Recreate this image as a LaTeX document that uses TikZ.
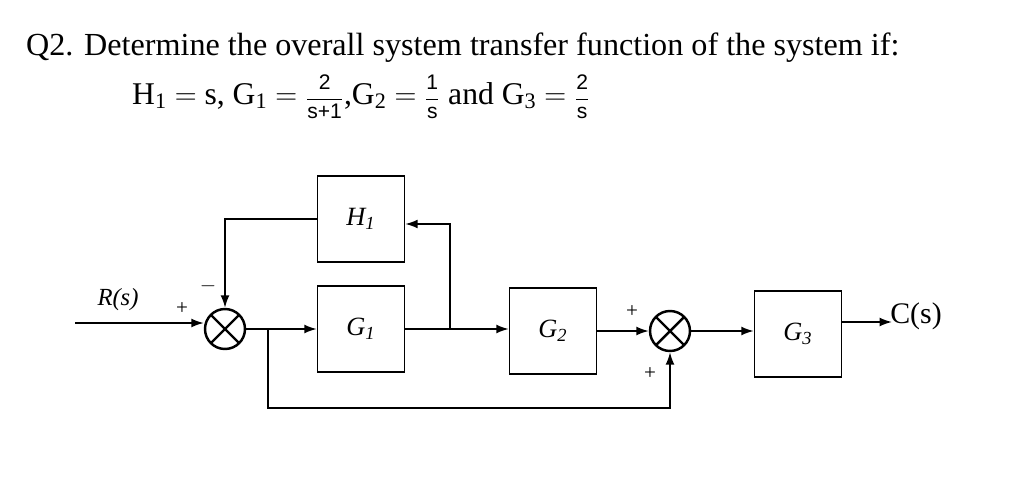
\documentclass[tikz,border=0pt]{standalone}
\usepackage{fontspec}
\setmainfont{Liberation Serif}
\newfontfamily\sansf{Liberation Sans}
\usetikzlibrary{arrows.meta}
\newcommand{\myfr}[2]{{\sansf\fontsize{12}{12}\selectfont$\displaystyle\frac{\mbox{#1}}{\mbox{#2}}$}}
\begin{document}
\begin{tikzpicture}[x=0.02cm,y=-0.02cm,
  blk/.style={draw,line width=0.9pt,minimum width=1.74cm,minimum height=1.72cm,font=\fontsize{15}{15}\selectfont\itshape},
  sumj/.style={draw,circle,line width=1.4pt,minimum size=0.8cm,inner sep=0pt,path picture={\draw[line width=1.4pt] (path picture bounding box.north west)--(path picture bounding box.south east) (path picture bounding box.north east)--(path picture bounding box.south west);}},
  ar/.style={line width=0.9pt,-{Latex[length=7pt,width=5pt]}},
  lab/.style={font=\fontsize{12}{12}\selectfont}]
\useasboundingbox (0,0) rectangle (1024,483);
\node[anchor=west,font=\fontsize{18.3}{20}\selectfont] (title) at (20,48) {Q2. Determine the overall system transfer function of the system if:};
\node[anchor=west,font=\fontsize{18}{20}\selectfont] (eq) at (126,97) {H\textsubscript{1} $=$ s, G\textsubscript{1} $=$ \myfr{2}{s+1},G\textsubscript{2} $=$ \myfr{1}{s} and G\textsubscript{3} $=$ \myfr{2}{s}};
\node[blk] (h1) at (361,219) {H\textsubscript{1}};
\node[blk] (g1) at (361,329) {G\textsubscript{1}};
\node[blk] (g2) at (553,331) {G\textsubscript{2}};
\node[blk] (g3) at (798,334) {G\textsubscript{3}};
\node[sumj] (s1) at (225,329) {};
\node[sumj] (s2) at (670,331) {};
\coordinate (in) at (75,323);
\coordinate (out) at (892,322);
\coordinate (br) at (450,329);
\coordinate (bb) at (268,329);
\draw[ar] (in) -- (s1.west |- in);
\draw[ar] (h1.west) -| (s1.north);
\draw[ar] (s1.east) -- (g1.west);
\draw[ar] (g1.east) -- (g2.west |- g1.east);
\draw[ar] (br) |- ([yshift=-0.1cm]h1.east);
\draw[ar] (g2.east) -- (s2.west);
\draw[ar] (s2.east) -- (g3.west |- s2.east);
\draw[ar] (g3.east |- out) -- (out);
\draw[ar] (bb) -- (268,408) -| (s2.south);
\node[font=\fontsize{14}{14}\selectfont\itshape] (r) at (118,300) {R(s)};
\node[font=\fontsize{17}{17}\selectfont] (c) at (916,316) {C(s)};
\node[lab] (p1) at (182,309) {+};
\node[lab] (m1) at (208,286) {$-$};
\node[lab] (p2) at (632,312) {+};
\node[lab] (p3) at (650,374) {+};
\end{tikzpicture}
\end{document}
